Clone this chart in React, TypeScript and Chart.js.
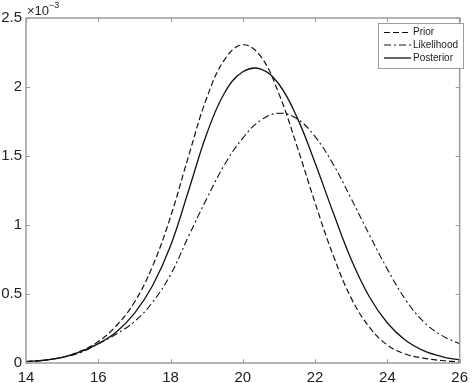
import React, { useEffect, useRef } from "react";
import { Chart, registerables } from "chart.js";

Chart.register(...registerables);

// x positions (parameter value)
const xValues = [14, 14.5, 15, 15.5, 16, 16.5, 17, 17.5, 18, 18.5, 19, 19.5, 20, 20.5, 21, 21.5, 22, 22.5, 23, 23.5, 24, 24.5, 25, 25.5, 26];
// densities in units of 1e-3
const priorValues = [0.01, 0.02, 0.04, 0.085, 0.155, 0.27, 0.44, 0.7, 1.06, 1.5, 1.92, 2.2, 2.306, 2.22, 1.95, 1.57, 1.16, 0.78, 0.47, 0.26, 0.13, 0.065, 0.035, 0.018, 0.008];
const likelihoodValues = [0.01, 0.02, 0.04, 0.075, 0.14, 0.21, 0.3, 0.44, 0.64, 0.92, 1.19, 1.44, 1.63, 1.76, 1.81, 1.77, 1.64, 1.44, 1.19, 0.93, 0.68, 0.46, 0.3, 0.2, 0.14];
const posteriorValues = [0.01, 0.02, 0.04, 0.08, 0.14, 0.225, 0.36, 0.56, 0.85, 1.25, 1.66, 1.96, 2.11, 2.13, 2.02, 1.78, 1.45, 1.09, 0.75, 0.48, 0.29, 0.165, 0.09, 0.047, 0.022];

const seriesLabels = ["Prior", "Likelihood", "Posterior"];
const xTicks = [14, 16, 18, 20, 22, 24, 26];
const yTicks = [0, 0.5, 1, 1.5, 2, 2.5];
const exponentBase = "\u00d710";
const exponentPower = "\u22123";

const AXIS_COLOR = "#9c9c9c";
const FONT = "'Liberation Sans', Arial, Helvetica, sans-serif";

const framePlugin = {
  id: "frame",
  afterDatasetsDraw(chart: any) {
    const { ctx, chartArea } = chart;
    const { left, right, top, bottom } = chartArea;
    const xs = chart.scales.x;
    const ys = chart.scales.y;
    ctx.save();
    ctx.strokeStyle = AXIS_COLOR;
    ctx.lineWidth = 1.5;
    ctx.strokeRect(left, top, right - left, bottom - top);
    ctx.lineWidth = 1;
    const tl = 4;
    ctx.beginPath();
    xTicks.forEach((v) => {
      const px = Math.round(xs.getPixelForValue(v)) + 0.5;
      ctx.moveTo(px, bottom);
      ctx.lineTo(px, bottom - tl);
      ctx.moveTo(px, top);
      ctx.lineTo(px, top + tl);
    });
    yTicks.forEach((v) => {
      const py = Math.round(ys.getPixelForValue(v)) + 0.5;
      ctx.moveTo(left, py);
      ctx.lineTo(left + tl, py);
      ctx.moveTo(right, py);
      ctx.lineTo(right - tl, py);
    });
    ctx.stroke();

    // exponent label
    ctx.fillStyle = "#222";
    ctx.textBaseline = "alphabetic";
    ctx.textAlign = "left";
    ctx.font = `13px ${FONT}`;
    ctx.fillText(exponentBase, left + 1, top - 3);
    const w = ctx.measureText(exponentBase).width;
    ctx.font = `9px ${FONT}`;
    ctx.fillText(exponentPower, left + 1 + w, top - 10);

    // legend
    const bx = 378, by = 23, bw = 85, bh = 45;
    ctx.fillStyle = "#fff";
    ctx.fillRect(bx, by, bw, bh);
    ctx.strokeStyle = AXIS_COLOR;
    ctx.lineWidth = 1;
    ctx.strokeRect(bx + 0.5, by + 0.5, bw, bh);
    const rows = [32.5, 45, 58];
    chart.data.datasets.forEach((ds: any, i: number) => {
      const y = rows[i];
      ctx.strokeStyle = "#111";
      ctx.lineWidth = ds.borderWidth;
      ctx.setLineDash(ds.borderDash || []);
      ctx.beginPath();
      ctx.moveTo(384, y);
      ctx.lineTo(411, y);
      ctx.stroke();
      ctx.setLineDash([]);
      ctx.fillStyle = "#222";
      ctx.font = `10px ${FONT}`;
      ctx.textBaseline = "middle";
      ctx.fillText(ds.label, 413, y);
    });
    ctx.restore();
  },
};

export default function App() {
  const ref = useRef<HTMLCanvasElement | null>(null);
  useEffect(() => {
    document.body.style.margin = "0";
    if (!ref.current) return;
    const mk = (vals: number[]) => xValues.map((x, i) => ({ x, y: vals[i] }));
    const chart = new Chart(ref.current, {
      type: "line",
      data: {
        datasets: [
          { label: seriesLabels[0], data: mk(priorValues), borderColor: "#111", borderWidth: 1.2, borderDash: [6, 3], pointRadius: 0, fill: false, tension: 0.4 },
          { label: seriesLabels[1], data: mk(likelihoodValues), borderColor: "#111", borderWidth: 1.1, borderDash: [7, 3, 2, 3], pointRadius: 0, fill: false, tension: 0.4 },
          { label: seriesLabels[2], data: mk(posteriorValues), borderColor: "#111", borderWidth: 1.3, pointRadius: 0, fill: false, tension: 0.4 },
        ],
      } as any,
      options: {
        animation: false,
        responsive: false,
        maintainAspectRatio: false,
        layout: { padding: { top: 18, right: 8, left: 0, bottom: 0 } },
        plugins: { legend: { display: false }, tooltip: { enabled: false } },
        scales: {
          x: {
            type: "linear",
            min: 14,
            max: 26,
            afterBuildTicks: (s: any) => { s.ticks = xTicks.map((v) => ({ value: v })); },
            afterFit: (s: any) => { s.height = 20; },
            grid: { display: false, drawTicks: false },
            border: { display: false },
            ticks: { color: "#222", font: { family: FONT, size: 15 }, padding: 6, maxRotation: 0, autoSkip: false, callback: (v: any) => String(v) },
          },
          y: {
            type: "linear",
            min: 0,
            max: 2.5,
            afterBuildTicks: (s: any) => { s.ticks = yTicks.map((v) => ({ value: v })); },
            afterFit: (s: any) => { s.width = 26; },
            grid: { display: false, drawTicks: false },
            border: { display: false },
            ticks: { color: "#222", font: { family: FONT, size: 15 }, padding: 4, autoSkip: false, callback: (v: any) => String(v) },
          },
        },
      } as any,
      plugins: [framePlugin],
    });
    return () => chart.destroy();
  }, []);
  return (
    <div style={{ position: "absolute", left: 0, top: 0, width: 474, height: 383 }}>
      <canvas ref={ref} width={474} height={383} style={{ width: 474, height: 383 }} />
    </div>
  );
}
